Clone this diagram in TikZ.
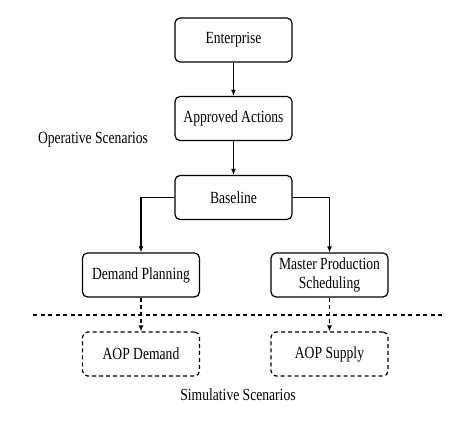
\documentclass[tikz,border=0pt]{standalone}
\usepackage{fontspec}
\setmainfont[FakeStretch=0.8]{Liberation Serif}
\usetikzlibrary{arrows.meta}
\begin{document}
\begin{tikzpicture}[x=1pt,y=-1pt]

      \tikzset{stage/.style={draw, rounded corners=5pt, line width=1.2pt, minimum width=117pt, minimum height=44pt, align=center, inner sep=2pt, font=\fontsize{17}{19}\selectfont},
               simstage/.style={stage, dash pattern=on 4pt off 3pt},
               flow/.style={line width=1.1pt, -{Latex[length=6pt,width=5pt]}},
               simflow/.style={flow, dash pattern=on 4pt off 3pt},
               caption/.style={font=\fontsize{17}{19}\selectfont}}
      \useasboundingbox (0,0) rectangle (474,427);
%% Vertices
      	\node[stage] (ent) at (233.5,40) {Enterprise};
      	\node[stage] (appr) at (233.5,118.5) {Approved Actions};
      	\node[stage] (base) at (233.5,197.5) {Baseline};
      	\node[stage] (dplan) at (141,275) {Demand Planning};
      	\node[stage] (mps) at (329.5,275) {Master Production\\Scheduling};
      	\node[simstage] (aopd) at (141,354) {AOP Demand};
      	\node[simstage] (aops) at (329.5,354) {AOP Supply};
      	\node[caption] (oper) at (93,140) {Operative Scenarios};
      	\node[caption] (simu) at (238,395) {Simulative Scenarios};
      	\coordinate (cutl) at (33,315);
      	\coordinate (cutr) at (443,315);

%Edges
		\draw[flow] (ent) -- (appr);
		\draw[flow] (appr) -- (base);
		\draw[flow] (base.west) -| (dplan.north);
		\draw[flow] (base.east) -| (mps.north);
		\draw[simflow] (dplan) -- (aopd);
		\draw[simflow] (mps) -- (aops);
		\draw[line width=1.1pt, dash pattern=on 4pt off 3.5pt] (cutl) -- (cutr);
	\end{tikzpicture}
\end{document}
